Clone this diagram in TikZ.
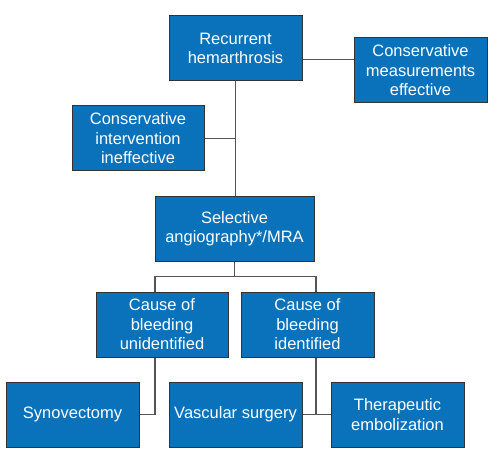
\documentclass[tikz,border=0pt]{standalone}
\usepackage{fontspec}
\setmainfont{Liberation Sans}
\definecolor{boxblue}{HTML}{0A72BA}
\definecolor{linkgray}{HTML}{555555}
\begin{document}
\begin{tikzpicture}[x=1pt,y=-1pt,
  box/.style={draw=black!80, line width=1pt, fill=boxblue, text=white,
    minimum width=133pt, minimum height=65pt, inner sep=0pt, align=center,
    font=\fontsize{16.5}{19.4}\selectfont},
  link/.style={draw=linkgray, line width=1.3pt}]
\useasboundingbox[fill=white] (0,0) rectangle (500,457);
\node[box] (rec) at (235.5,48.5) {Recurrent\\hemarthrosis};
\node[box] (meas) at (420.5,70.5) {Conservative\\measurements\\effective};
\node[box, minimum width=132pt] (intv) at (138,138.5) {Conservative\\intervention\\ineffective};
\node[box, minimum width=159pt] (sel) at (234.5,228.5) {Selective\\angiography*/MRA};
\node[box, minimum width=132pt] (unid) at (162,324.5) {Cause of\\bleeding\\unidentified};
\node[box] (iden) at (307.5,324.5) {Cause of\\bleeding\\identified};
\node[box] (syn) at (72.5,414.5) {Synovectomy};
\node[box] (vasc) at (235.5,414.5) {Vascular surgery};
\node[box] (ther) at (397.5,414.5) {Therapeutic\\embolization};

\draw[link] (rec.east) ++(0,11) coordinate (j1) -- (j1 -| meas.west);
\draw[link] (rec.south) -- (rec.south |- sel.north);
\draw[link] (intv.east) -- (intv.east -| rec.south);
\draw[link] (sel.south) -- ++(0,15) coordinate (b);
\draw[link] ([xshift=-7pt]unid.north) |- (b) -| ([xshift=8.5pt]iden.north);
\draw[link] ([xshift=-7pt]unid.south) |- (syn.east);
\draw[link] ([xshift=8.5pt]iden.south) -- ([xshift=8.5pt]iden.south |- vasc.east);
\draw[link] (vasc.east) -- (ther.west);
\end{tikzpicture}
\end{document}
